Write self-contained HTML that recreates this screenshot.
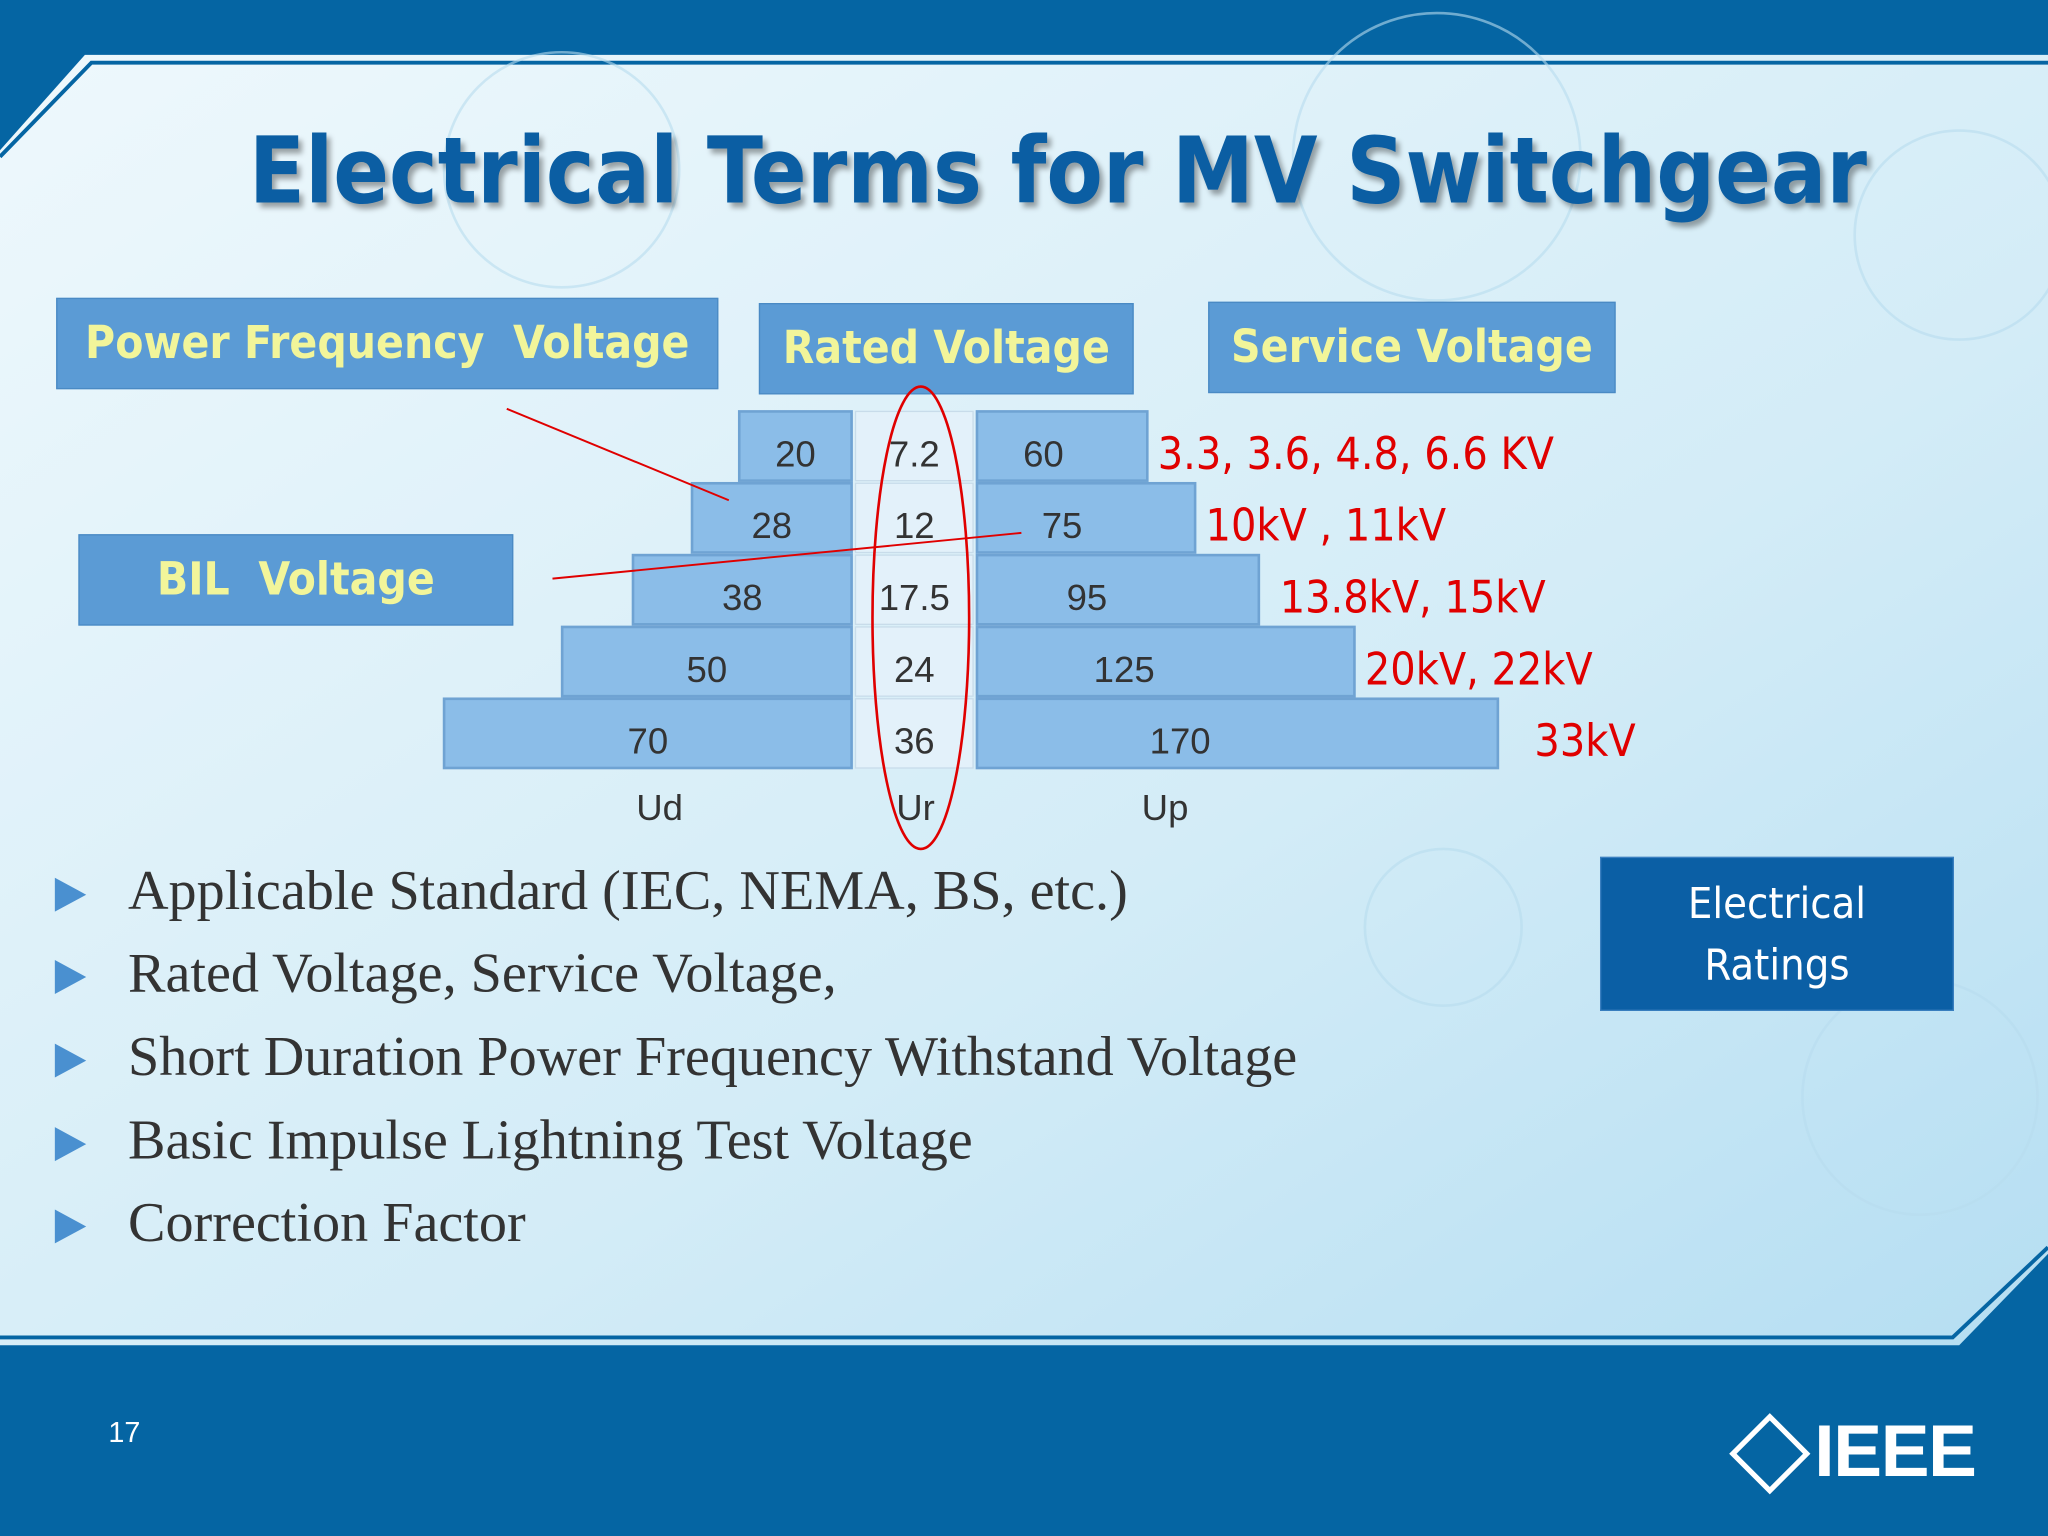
<!DOCTYPE html>
<html><head><meta charset="utf-8"><style>
html,body{margin:0;padding:0;width:2048px;height:1536px;overflow:hidden;background:#0565a3}
#s{position:absolute;left:0;top:0;width:1568px;height:1176px;transform:scale(1.306122);transform-origin:0 0;font-family:"Liberation Sans",sans-serif}
.box{position:absolute;background:#5b9bd5;color:#f2f59a;font-weight:bold;font-size:35px;display:flex;align-items:center;justify-content:center;font-family:"DejaVu Sans Condensed","Liberation Sans",sans-serif;border:1px solid #4a8ac4}
.bul{position:absolute;left:98px;font-family:"Liberation Serif",serif;font-size:43px;color:#333}
.tri{position:absolute;left:42px;width:0;height:0;border-top:13px solid transparent;border-bottom:13px solid transparent;border-left:24px solid #4a90d0}
</style></head><body>
<div id="s">
<svg width="1568" height="1176" style="position:absolute;left:0;top:0">
<defs><linearGradient id="g" x1="0" y1="0" x2="1" y2="1"><stop offset="0" stop-color="#eef8fc"/><stop offset="0.6" stop-color="#d3ecf7"/><stop offset="1" stop-color="#b5def2"/></linearGradient></defs>
<polygon points="65,42 1568,42 1568,960 1500,1030 0,1030 0,115" fill="url(#g)"/>
<polyline points="0,120 70,48 1568,48" fill="none" stroke="#0565a3" stroke-width="3"/>
<polyline points="0,1024 1495,1024 1568,955" fill="none" stroke="#0565a3" stroke-width="3"/>
<g fill="none" stroke="#b8dcee" stroke-width="2" opacity="0.6">
<circle cx="1100" cy="120" r="110"/><circle cx="1500" cy="180" r="80"/><circle cx="1105" cy="710" r="60"/><circle cx="1470" cy="840" r="90"/><circle cx="430" cy="130" r="90"/>
</g>
</svg>
<div style="position:absolute;left:0;width:1620px;top:90px;text-align:center;font-family:'DejaVu Sans Condensed','Liberation Sans',sans-serif;font-weight:bold;font-size:70px;color:#0b5ea3;text-shadow:3px 4px 4px rgba(0,0,0,0.35)">Electrical Terms for MV Switchgear</div>
<div class="box" style="left:43px;top:228px;width:505px;height:68px">Power Frequency&nbsp; Voltage</div>
<div class="box" style="left:581px;top:232px;width:285px;height:68px">Rated Voltage</div>
<div class="box" style="left:925px;top:231px;width:310px;height:68px">Service Voltage</div>
<div class="box" style="left:60px;top:409px;width:331px;height:68px">BIL&nbsp; Voltage</div>
<svg id="chart" width="1568" height="700" style="position:absolute;left:0;top:0"></svg>
<div class="tri" style="top:672px"></div><div class="bul" style="top:658px">Applicable Standard (IEC, NEMA, BS, etc.)</div>
<div class="tri" style="top:735px"></div><div class="bul" style="top:721px">Rated Voltage, Service Voltage,</div>
<div class="tri" style="top:799px"></div><div class="bul" style="top:785px">Short Duration Power Frequency Withstand Voltage</div>
<div class="tri" style="top:863px"></div><div class="bul" style="top:849px">Basic Impulse Lightning Test Voltage</div>
<div class="tri" style="top:926px"></div><div class="bul" style="top:912px">Correction Factor</div>
<div style="position:absolute;left:1225px;top:656px;width:269px;height:116px;background:#0b5fa5;border:1px solid #3a7fc0;color:#fff;font-size:33px;text-align:center;line-height:47px;display:flex;align-items:center;justify-content:center;font-family:'DejaVu Sans Condensed','Liberation Sans',sans-serif">Electrical<br>Ratings</div>
<div style="position:absolute;left:83px;top:1084px;color:#fff;font-size:22px">17</div>
<div style="position:absolute;left:1325px;top:1078px;display:flex;align-items:center">
<div style="width:36px;height:36px;border:4px solid #fff;transform:rotate(45deg);margin:4px 12px 0 8px;background:#0565a3"></div>
<span style="color:#fff;font-weight:bold;font-size:56px;letter-spacing:-1px">IEEE</span></div>
</div>
<script>
const ratedValues=[7.2,12,17.5,24,36];
const pfValues=[20,28,38,50,70];
const bilValues=[60,75,95,125,170];
const serviceLabels=["3.3, 3.6, 4.8, 6.6 KV","10kV , 11kV","13.8kV, 15kV","20kV, 22kV","33kV"];
const axisLabels=["Ud","Ur","Up"];
const svg=document.getElementById('chart');
const NS='http://www.w3.org/2000/svg';
const top0=315,rowH=55,udRight=652,urL=655,urR=745,upL=748;
const udW=v=>v*4.52-4.4, upW=v=>v*2.44-16, rowY=i=>top0+i*rowH;
const numFont='Liberation Sans Narrow, Liberation Sans, sans-serif';
function mk(t,a){const e=document.createElementNS(NS,t);for(const k in a)e.setAttribute(k,a[k]);svg.appendChild(e);return e;}
function txt(x,y,s,fill,size,anchor,fam){const e=mk('text',{x:x,y:y,fill:fill,'font-size':size,'text-anchor':anchor,'font-family':fam||numFont});e.textContent=s;return e;}
pfValues.forEach((v,i)=>{const y=rowY(i),w=udW(v);
const r=mk('rect',{x:udRight-w,y:y,width:w,height:rowH-2,fill:'#8bbde8',stroke:'#6fa3d3','stroke-width':2});


const t=txt(udRight-Math.max(35,w*0.5),y+42,String(v),'#333',28,'middle');

});
ratedValues.forEach((v,i)=>{const y=rowY(i);
const r=mk('rect',{x:urL,y:y,width:urR-urL,height:rowH-2,fill:'#e3f1fa',stroke:'#c8dcea','stroke-width':1});


const t=txt((urL+urR)/2,y+42,String(v),'#333',28,'middle');

});
bilValues.forEach((v,i)=>{const y=rowY(i),w=upW(v);
const r=mk('rect',{x:upL,y:y,width:w,height:rowH-2,fill:'#8bbde8',stroke:'#6fa3d3','stroke-width':2});


const t=txt(upL+w*0.39,y+42,String(v),'#333',28,'middle');


const l=txt(upL+w+8+(i===4?20:(i===2?8:0)),y+44,serviceLabels[i],'#e00000',34,'start','DejaVu Sans Condensed, Liberation Sans, sans-serif');

});
[[505],[701],[892]].forEach((p,i)=>{const t=txt(p[0],628,axisLabels[i],'#333',28,'middle');

});
const e=mk('ellipse',{cx:705,cy:473,rx:37,ry:177,fill:'none',stroke:'#e00000','stroke-width':2});


const l1=mk('line',{x1:388,y1:313,x2:558,y2:383,stroke:'#e00000','stroke-width':1.5});


const l2=mk('line',{x1:423,y1:443,x2:782,y2:408,stroke:'#e00000','stroke-width':1.5});


</script>
</body></html>
